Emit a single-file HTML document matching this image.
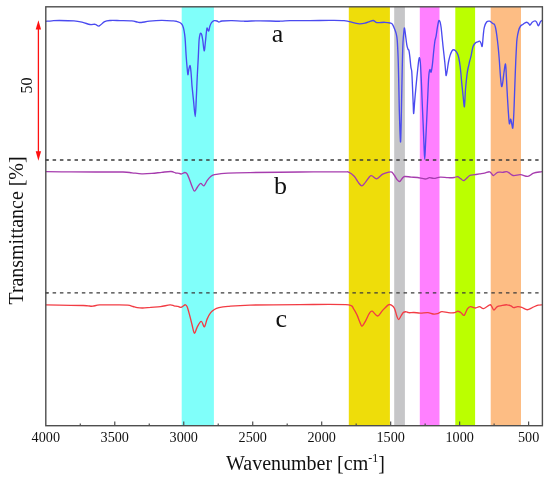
<!DOCTYPE html>
<html><head><meta charset="utf-8"><title>FTIR spectra</title>
<style>
html,body{margin:0;padding:0;background:#fff;}
body{width:550px;height:483px;overflow:hidden;}
svg{display:block;}
text{font-family:"Liberation Serif","Times New Roman",serif;fill:#111;}
.sans{font-family:"Liberation Sans",Arial,sans-serif;}
</style></head><body>
<svg width="550" height="483" viewBox="0 0 550 483">
<rect x="0" y="0" width="550" height="483" fill="#fff"/>
<rect x="181.70" y="6.80" width="32.20" height="418.90" fill="#80FFFA"/>
<rect x="348.80" y="6.80" width="41.10" height="418.90" fill="#EEDD0A"/>
<rect x="394.20" y="6.80" width="10.70" height="418.90" fill="#C6C6C8"/>
<rect x="419.80" y="6.80" width="19.70" height="418.90" fill="#FF80FF"/>
<rect x="455.30" y="6.80" width="19.80" height="418.90" fill="#BBFF00"/>
<rect x="490.70" y="6.80" width="30.30" height="418.90" fill="#FDBD84"/>
<line x1="45.29" y1="160.00" x2="538.6" y2="160.00" stroke="#3a3a3a" stroke-width="1.3" stroke-dasharray="3.5 3.812"/>
<line x1="45.29" y1="292.90" x2="538.6" y2="292.90" stroke="#3a3a3a" stroke-width="1.3" stroke-dasharray="3.5 3.812"/>
<path d="M45.80 21.30 C46.83 21.22 49.72 20.93 52.00 20.80 C54.28 20.67 55.83 20.48 59.50 20.50 C63.17 20.52 70.12 20.58 74.00 20.90 C77.88 21.22 80.13 21.80 82.80 22.40 C85.47 23.00 87.93 24.18 90.00 24.50 C92.07 24.82 93.68 24.05 95.20 24.30 C96.72 24.55 97.53 26.45 99.10 26.00 C100.67 25.55 102.70 22.52 104.60 21.60 C106.50 20.68 107.93 20.67 110.50 20.50 C113.07 20.33 116.45 20.53 120.00 20.60 C123.55 20.67 128.85 20.63 131.80 20.90 C134.75 21.17 136.12 21.93 137.70 22.20 C139.28 22.47 139.33 22.67 141.30 22.50 C143.27 22.33 146.15 21.55 149.50 21.20 C152.85 20.85 157.45 20.45 161.40 20.40 C165.35 20.35 170.68 20.75 173.20 20.90 C175.72 21.05 175.42 21.03 176.50 21.30 C177.58 21.57 178.88 22.10 179.70 22.50 C180.52 22.90 180.92 23.22 181.40 23.70 C181.88 24.18 182.20 24.47 182.60 25.40 C183.00 26.33 183.45 27.72 183.80 29.30 C184.15 30.88 184.45 32.93 184.70 34.90 C184.95 36.87 185.12 38.58 185.30 41.10 C185.48 43.62 185.65 47.43 185.80 50.00 C185.95 52.57 186.00 53.77 186.20 56.50 C186.40 59.23 186.72 63.37 187.00 66.40 C187.28 69.43 187.60 74.18 187.90 74.70 C188.20 75.22 188.43 71.02 188.80 69.50 C189.17 67.98 189.73 65.18 190.10 65.60 C190.47 66.02 190.75 69.60 191.00 72.00 C191.25 74.40 191.42 77.52 191.60 80.00 C191.78 82.48 191.78 83.50 192.10 86.90 C192.42 90.30 192.98 95.47 193.50 100.40 C194.02 105.33 194.75 116.50 195.20 116.50 C195.65 116.50 195.90 106.15 196.20 100.40 C196.50 94.65 196.77 87.07 197.00 82.00 C197.23 76.93 197.38 74.17 197.60 70.00 C197.82 65.83 198.05 62.00 198.30 57.00 C198.55 52.00 198.82 43.75 199.10 40.00 C199.38 36.25 199.72 35.63 200.00 34.50 C200.28 33.37 200.50 33.12 200.80 33.20 C201.10 33.28 201.47 33.78 201.80 35.00 C202.13 36.22 202.40 37.85 202.80 40.50 C203.20 43.15 203.77 50.65 204.20 50.90 C204.63 51.15 205.05 44.98 205.40 42.00 C205.75 39.02 206.03 35.32 206.30 33.00 C206.57 30.68 206.75 28.68 207.00 28.10 C207.25 27.52 207.50 29.02 207.80 29.50 C208.10 29.98 208.47 31.50 208.80 31.00 C209.13 30.50 209.43 27.75 209.80 26.50 C210.17 25.25 210.53 24.32 211.00 23.50 C211.47 22.68 212.03 22.07 212.60 21.60 C213.17 21.13 213.67 20.80 214.40 20.70 C215.13 20.60 216.23 20.77 217.00 21.00 C217.77 21.23 218.17 22.10 219.00 22.10 C219.83 22.10 219.83 21.25 222.00 21.00 C224.17 20.75 228.33 20.57 232.00 20.60 C235.67 20.63 239.33 21.17 244.00 21.20 C248.67 21.23 254.00 20.80 260.00 20.80 C266.00 20.80 275.00 21.23 280.00 21.20 C285.00 21.17 285.00 20.70 290.00 20.60 C295.00 20.50 303.33 20.63 310.00 20.60 C316.67 20.57 324.33 20.38 330.00 20.40 C335.67 20.42 339.97 20.30 344.00 20.70 C348.03 21.10 351.65 22.28 354.20 22.80 C356.75 23.32 357.50 23.73 359.30 23.80 C361.10 23.87 363.30 23.57 365.00 23.20 C366.70 22.83 368.12 22.05 369.50 21.60 C370.88 21.15 372.08 20.33 373.30 20.50 C374.52 20.67 374.90 22.30 376.80 22.60 C378.70 22.90 382.50 22.23 384.70 22.30 C386.90 22.37 388.70 22.67 390.00 23.00 C391.30 23.33 391.67 23.15 392.50 24.30 C393.33 25.45 394.38 28.33 395.00 29.90 C395.62 31.47 395.83 32.03 396.20 33.70 C396.57 35.37 396.88 35.97 397.20 39.90 C397.52 43.83 397.85 50.62 398.10 57.30 C398.35 63.98 398.50 71.22 398.70 80.00 C398.90 88.78 399.10 101.67 399.30 110.00 C399.50 118.33 399.68 124.70 399.90 130.00 C400.12 135.30 400.38 143.20 400.60 141.80 C400.82 140.40 401.03 128.57 401.20 121.60 C401.37 114.63 401.45 107.77 401.60 100.00 C401.75 92.23 401.95 82.12 402.10 75.00 C402.25 67.88 402.35 62.73 402.50 57.30 C402.65 51.87 402.77 46.75 403.00 42.40 C403.23 38.05 403.65 33.58 403.90 31.20 C404.15 28.82 404.23 27.48 404.50 28.10 C404.77 28.72 405.12 32.12 405.50 34.90 C405.88 37.68 406.38 42.42 406.80 44.80 C407.22 47.18 407.65 48.27 408.00 49.20 C408.35 50.13 408.58 49.05 408.90 50.40 C409.22 51.75 409.57 54.50 409.90 57.30 C410.23 60.10 410.60 64.92 410.90 67.20 C411.20 69.48 411.48 68.87 411.70 71.00 C411.92 73.13 412.03 76.50 412.20 80.00 C412.37 83.50 412.53 88.00 412.70 92.00 C412.87 96.00 413.03 100.42 413.20 104.00 C413.37 107.58 413.45 114.00 413.70 113.50 C413.95 113.00 414.35 105.15 414.70 101.00 C415.05 96.85 415.45 92.43 415.80 88.60 C416.15 84.77 416.47 81.35 416.80 78.00 C417.13 74.65 417.48 71.42 417.80 68.50 C418.12 65.58 418.42 62.30 418.70 60.50 C418.98 58.70 419.23 57.45 419.50 57.70 C419.77 57.95 420.05 59.28 420.30 62.00 C420.55 64.72 420.80 70.17 421.00 74.00 C421.20 77.83 421.28 79.83 421.50 85.00 C421.72 90.17 422.02 98.33 422.30 105.00 C422.58 111.67 422.92 118.33 423.20 125.00 C423.48 131.67 423.75 139.30 424.00 145.00 C424.25 150.70 424.45 159.20 424.70 159.20 C424.95 159.20 425.18 151.20 425.50 145.00 C425.82 138.80 426.25 129.50 426.60 122.00 C426.95 114.50 427.28 107.00 427.60 100.00 C427.92 93.00 428.23 84.67 428.50 80.00 C428.77 75.33 428.95 73.78 429.20 72.00 C429.45 70.22 429.68 69.28 430.00 69.30 C430.32 69.32 430.70 72.87 431.10 72.10 C431.50 71.33 431.98 68.00 432.40 64.70 C432.82 61.40 433.18 56.25 433.60 52.30 C434.02 48.35 434.48 43.70 434.90 41.00 C435.32 38.30 435.68 38.37 436.10 36.10 C436.52 33.83 436.98 29.88 437.40 27.40 C437.82 24.92 438.28 22.33 438.60 21.20 C438.92 20.07 439.03 20.42 439.30 20.60 C439.57 20.78 439.90 21.17 440.20 22.30 C440.50 23.43 440.80 25.12 441.10 27.40 C441.40 29.68 441.68 32.90 442.00 36.00 C442.32 39.10 442.67 42.83 443.00 46.00 C443.33 49.17 443.70 52.30 444.00 55.00 C444.30 57.70 444.53 59.53 444.80 62.20 C445.07 64.87 445.37 68.77 445.60 71.00 C445.83 73.23 445.92 75.77 446.20 75.60 C446.48 75.43 446.92 72.27 447.30 70.00 C447.68 67.73 448.03 64.43 448.50 62.00 C448.97 59.57 449.52 57.27 450.10 55.40 C450.68 53.53 451.43 51.75 452.00 50.80 C452.57 49.85 452.92 49.70 453.50 49.70 C454.08 49.70 454.78 50.02 455.50 50.80 C456.22 51.58 457.22 53.03 457.80 54.40 C458.38 55.77 458.62 57.07 459.00 59.00 C459.38 60.93 459.78 63.58 460.10 66.00 C460.42 68.42 460.65 70.92 460.90 73.50 C461.15 76.08 461.35 78.83 461.60 81.50 C461.85 84.17 462.13 86.92 462.40 89.50 C462.67 92.08 462.95 94.58 463.20 97.00 C463.45 99.42 463.70 102.40 463.90 104.00 C464.10 105.60 464.23 107.27 464.40 106.60 C464.57 105.93 464.72 102.88 464.90 100.00 C465.08 97.12 465.27 92.47 465.50 89.30 C465.73 86.13 466.03 83.58 466.30 81.00 C466.57 78.42 466.83 75.80 467.10 73.80 C467.37 71.80 467.65 70.30 467.90 69.00 C468.15 67.70 468.30 67.33 468.60 66.00 C468.90 64.67 469.32 62.55 469.70 61.00 C470.08 59.45 470.50 58.45 470.90 56.70 C471.30 54.95 471.70 52.30 472.10 50.50 C472.50 48.70 472.72 47.18 473.30 45.90 C473.88 44.62 474.90 43.45 475.60 42.80 C476.30 42.15 476.85 42.27 477.50 42.00 C478.15 41.73 478.93 41.03 479.50 41.20 C480.07 41.37 480.45 42.17 480.90 43.00 C481.35 43.83 481.80 47.53 482.20 46.20 C482.60 44.87 482.95 38.13 483.30 35.00 C483.65 31.87 483.75 29.57 484.30 27.40 C484.85 25.23 485.70 23.03 486.60 22.00 C487.50 20.97 488.67 20.95 489.70 21.20 C490.73 21.45 492.00 22.95 492.80 23.50 C493.60 24.05 494.03 23.75 494.50 24.50 C494.97 25.25 495.23 26.32 495.60 28.00 C495.97 29.68 496.28 31.57 496.70 34.60 C497.12 37.63 497.67 41.97 498.10 46.20 C498.53 50.43 498.92 55.03 499.30 60.00 C499.68 64.97 500.02 71.60 500.40 76.00 C500.78 80.40 501.20 85.40 501.60 86.40 C502.00 87.40 502.42 84.23 502.80 82.00 C503.18 79.77 503.45 76.02 503.90 73.00 C504.35 69.98 505.10 63.57 505.50 63.90 C505.90 64.23 506.03 70.48 506.30 75.00 C506.57 79.52 506.77 84.97 507.10 91.00 C507.43 97.03 507.92 105.75 508.30 111.20 C508.68 116.65 509.00 122.40 509.40 123.70 C509.80 125.00 510.30 118.95 510.70 119.00 C511.10 119.05 511.45 122.50 511.80 124.00 C512.15 125.50 512.50 129.00 512.80 128.00 C513.10 127.00 513.38 121.57 513.60 118.00 C513.82 114.43 513.93 110.93 514.10 106.60 C514.27 102.27 514.42 97.18 514.60 92.00 C514.78 86.82 515.00 80.83 515.20 75.50 C515.40 70.17 515.60 64.58 515.80 60.00 C516.00 55.42 516.20 51.50 516.40 48.00 C516.60 44.50 516.62 41.95 517.00 39.00 C517.38 36.05 518.10 32.47 518.70 30.30 C519.30 28.13 519.92 26.97 520.60 26.00 C521.28 25.03 522.07 25.03 522.80 24.50 C523.53 23.97 524.28 23.17 525.00 22.80 C525.72 22.43 526.50 22.18 527.10 22.30 C527.70 22.42 528.12 23.02 528.60 23.50 C529.08 23.98 529.40 25.40 530.00 25.20 C530.60 25.00 531.35 23.02 532.20 22.30 C533.05 21.58 534.33 20.87 535.10 20.90 C535.87 20.93 536.25 21.67 536.80 22.50 C537.35 23.33 537.78 26.05 538.40 25.90 C539.02 25.75 539.87 22.52 540.50 21.60 C541.13 20.68 541.92 20.60 542.20 20.40" fill="none" stroke="#4a4af0" stroke-width="1.35" stroke-linejoin="round"/>
<path d="M45.80 171.70 C49.83 171.73 61.63 171.85 70.00 171.90 C78.37 171.95 87.17 171.98 96.00 172.00 C104.83 172.02 117.00 171.87 123.00 172.00 C129.00 172.13 128.88 172.50 132.00 172.80 C135.12 173.10 138.37 173.70 141.70 173.80 C145.03 173.90 148.65 173.65 152.00 173.40 C155.35 173.15 158.63 172.62 161.80 172.30 C164.97 171.98 168.68 171.38 171.00 171.50 C173.32 171.62 174.53 172.73 175.70 173.00 C176.87 173.27 177.08 172.93 178.00 173.10 C178.92 173.27 180.07 174.10 181.20 174.00 C182.33 173.90 183.82 172.53 184.80 172.50 C185.78 172.47 186.27 172.52 187.10 173.80 C187.93 175.08 188.97 178.08 189.80 180.20 C190.63 182.32 191.33 184.68 192.10 186.50 C192.87 188.32 193.50 191.02 194.40 191.10 C195.30 191.18 196.45 188.28 197.50 187.00 C198.55 185.72 199.63 183.60 200.70 183.40 C201.77 183.20 202.83 186.27 203.90 185.80 C204.97 185.33 205.97 182.15 207.10 180.60 C208.23 179.05 209.48 177.48 210.70 176.50 C211.92 175.52 212.88 175.15 214.40 174.70 C215.92 174.25 217.53 174.07 219.80 173.80 C222.07 173.53 222.97 173.30 228.00 173.10 C233.03 172.90 238.00 172.78 250.00 172.60 C262.00 172.42 284.33 172.12 300.00 172.00 C315.67 171.88 335.90 171.87 344.00 171.90 C348.60 171.93 346.90 171.47 348.60 172.20 C350.30 172.93 352.58 174.60 354.20 176.30 C355.82 178.00 357.03 180.80 358.30 182.40 C359.57 184.00 360.62 185.90 361.80 185.90 C362.98 185.90 363.87 184.10 365.40 182.40 C366.93 180.70 369.13 176.30 371.00 175.70 C372.87 175.10 374.65 179.05 376.60 178.80 C378.55 178.55 380.67 175.30 382.70 174.20 C384.73 173.10 387.27 172.53 388.80 172.20 C390.33 171.87 390.95 171.65 391.90 172.20 C392.85 172.75 393.63 174.27 394.50 175.50 C395.37 176.73 396.25 178.60 397.10 179.60 C397.95 180.60 398.75 181.70 399.60 181.50 C400.45 181.30 401.35 179.23 402.20 178.40 C403.05 177.57 403.22 176.72 404.70 176.50 C406.18 176.28 408.97 176.93 411.10 177.10 C413.23 177.27 415.17 177.18 417.50 177.50 C419.83 177.82 423.10 178.97 425.10 179.00 C427.10 179.03 428.02 177.80 429.50 177.70 C430.98 177.60 432.18 178.50 434.00 178.40 C435.82 178.30 438.07 177.22 440.40 177.10 C442.73 176.98 445.67 177.63 448.00 177.70 C450.33 177.77 452.82 177.67 454.40 177.50 C455.98 177.33 456.48 176.53 457.50 176.70 C458.52 176.87 459.42 177.87 460.50 178.50 C461.58 179.13 462.47 181.00 464.00 180.50 C465.53 180.00 467.93 176.47 469.70 175.50 C471.47 174.53 472.97 174.97 474.60 174.70 C476.23 174.43 477.85 174.17 479.50 173.90 C481.15 173.63 482.85 173.45 484.50 173.10 C486.15 172.75 488.23 171.73 489.40 171.80 C490.57 171.87 490.82 172.88 491.50 173.50 C492.18 174.12 492.48 175.70 493.50 175.50 C494.52 175.30 496.10 172.83 497.60 172.30 C499.10 171.77 500.87 172.38 502.50 172.30 C504.13 172.22 505.63 171.27 507.40 171.80 C509.17 172.33 510.92 175.02 513.10 175.50 C515.28 175.98 518.05 174.55 520.50 174.70 C522.95 174.85 525.62 176.67 527.80 176.40 C529.98 176.13 531.42 173.87 533.60 173.10 C535.78 172.33 539.47 172.05 540.90 171.80 C542.20 171.55 541.98 171.63 542.20 171.60" fill="none" stroke="#a63cae" stroke-width="1.35" stroke-linejoin="round"/>
<path d="M45.80 304.90 C49.92 304.97 64.27 305.20 70.50 305.30 C76.73 305.40 80.28 305.42 83.20 305.50 C86.12 305.58 86.42 305.68 88.00 305.80 C89.58 305.92 90.75 306.35 92.70 306.20 C94.65 306.05 95.98 305.12 99.70 304.90 C103.42 304.68 110.33 304.87 115.00 304.90 C119.67 304.93 124.70 304.83 127.70 305.10 C130.70 305.37 131.40 306.08 133.00 306.50 C134.60 306.92 135.68 307.35 137.30 307.60 C138.92 307.85 140.43 308.05 142.70 308.00 C144.97 307.95 147.93 307.53 150.90 307.30 C153.87 307.07 157.32 307.00 160.50 306.60 C163.68 306.20 167.73 305.03 170.00 304.90 C172.27 304.77 172.77 305.55 174.10 305.80 C175.43 306.05 176.82 306.15 178.00 306.40 C179.18 306.65 179.95 307.57 181.20 307.30 C182.45 307.03 184.45 304.73 185.50 304.80 C186.55 304.87 186.78 305.85 187.50 307.70 C188.22 309.55 189.03 313.02 189.80 315.90 C190.57 318.78 191.33 322.12 192.10 325.00 C192.87 327.88 193.57 332.82 194.40 333.20 C195.23 333.58 195.97 329.27 197.10 327.30 C198.23 325.33 199.98 321.48 201.20 321.40 C202.42 321.32 203.42 327.18 204.40 326.80 C205.38 326.42 206.05 321.45 207.10 319.10 C208.15 316.75 209.48 314.30 210.70 312.70 C211.92 311.10 213.03 310.33 214.40 309.50 C215.77 308.67 216.63 308.22 218.90 307.70 C221.17 307.18 222.82 306.83 228.00 306.40 C233.18 305.97 238.00 305.40 250.00 305.10 C262.00 304.80 283.53 304.65 300.00 304.60 C316.47 304.55 339.87 304.10 348.80 304.80 C353.60 305.50 352.20 307.03 353.60 308.80 C355.00 310.57 356.20 313.30 357.20 315.40 C358.20 317.50 358.80 319.60 359.60 321.40 C360.40 323.20 361.00 326.30 362.00 326.20 C363.00 326.10 364.40 322.90 365.60 320.80 C366.80 318.70 368.10 315.20 369.20 313.60 C370.30 312.00 370.80 310.80 372.20 311.20 C373.60 311.60 375.90 316.10 377.60 316.00 C379.30 315.90 380.60 312.47 382.40 310.60 C384.20 308.73 386.90 305.70 388.40 304.80 C389.90 303.90 390.40 304.63 391.40 305.20 C392.40 305.77 393.50 306.40 394.40 308.20 C395.30 310.00 396.10 314.10 396.80 316.00 C397.50 317.90 397.90 319.60 398.60 319.60 C399.30 319.60 400.20 317.20 401.00 316.00 C401.80 314.80 402.50 313.10 403.40 312.40 C404.30 311.70 405.50 311.75 406.40 311.80 C407.30 311.85 407.55 312.58 408.80 312.70 C410.05 312.82 411.98 312.43 413.90 312.50 C415.82 312.57 417.97 313.07 420.30 313.10 C422.63 313.13 425.78 312.55 427.90 312.70 C430.02 312.85 431.40 313.83 433.00 314.00 C434.60 314.17 436.02 314.08 437.50 313.70 C438.98 313.32 440.10 311.87 441.90 311.70 C443.70 311.53 446.18 312.53 448.30 312.70 C450.42 312.87 453.02 312.95 454.60 312.70 C456.18 312.45 456.73 311.20 457.80 311.20 C458.87 311.20 459.93 312.02 461.00 312.70 C462.07 313.38 463.13 315.93 464.20 315.30 C465.27 314.67 466.35 310.35 467.40 308.90 C468.45 307.45 469.15 306.75 470.50 306.60 C471.85 306.45 474.00 308.00 475.50 308.00 C477.00 308.00 478.15 306.50 479.50 306.60 C480.85 306.70 481.88 308.90 483.60 308.60 C485.32 308.30 488.43 305.13 489.80 304.80 C491.17 304.47 491.12 305.73 491.80 306.60 C492.48 307.47 492.98 310.00 493.90 310.00 C494.82 310.00 496.05 307.33 497.30 306.60 C498.55 305.87 499.82 305.90 501.40 305.60 C502.98 305.30 505.22 304.75 506.80 304.80 C508.38 304.85 509.75 305.43 510.90 305.90 C512.05 306.37 512.57 307.48 513.70 307.60 C514.83 307.72 516.35 306.65 517.70 306.60 C519.05 306.55 520.20 306.78 521.80 307.30 C523.40 307.82 525.47 309.70 527.30 309.70 C529.13 309.70 530.98 308.05 532.80 307.30 C534.62 306.55 536.63 305.62 538.20 305.20 C539.77 304.78 541.53 304.87 542.20 304.80" fill="none" stroke="#f23c44" stroke-width="1.35" stroke-linejoin="round"/>
<rect x="45.80" y="6.80" width="496.60" height="418.90" fill="none" stroke="#4e4e4e" stroke-width="1.4"/>
<line x1="80.29" y1="425.70" x2="80.29" y2="423.40" stroke="#4e4e4e" stroke-width="1.2"/>
<line x1="114.77" y1="425.70" x2="114.77" y2="421.50" stroke="#4e4e4e" stroke-width="1.2"/>
<line x1="149.26" y1="425.70" x2="149.26" y2="423.40" stroke="#4e4e4e" stroke-width="1.2"/>
<line x1="183.74" y1="425.70" x2="183.74" y2="421.50" stroke="#4e4e4e" stroke-width="1.2"/>
<line x1="218.23" y1="425.70" x2="218.23" y2="423.40" stroke="#4e4e4e" stroke-width="1.2"/>
<line x1="252.72" y1="425.70" x2="252.72" y2="421.50" stroke="#4e4e4e" stroke-width="1.2"/>
<line x1="287.20" y1="425.70" x2="287.20" y2="423.40" stroke="#4e4e4e" stroke-width="1.2"/>
<line x1="321.69" y1="425.70" x2="321.69" y2="421.50" stroke="#4e4e4e" stroke-width="1.2"/>
<line x1="356.18" y1="425.70" x2="356.18" y2="423.40" stroke="#4e4e4e" stroke-width="1.2"/>
<line x1="390.66" y1="425.70" x2="390.66" y2="421.50" stroke="#4e4e4e" stroke-width="1.2"/>
<line x1="425.15" y1="425.70" x2="425.15" y2="423.40" stroke="#4e4e4e" stroke-width="1.2"/>
<line x1="459.63" y1="425.70" x2="459.63" y2="421.50" stroke="#4e4e4e" stroke-width="1.2"/>
<line x1="494.12" y1="425.70" x2="494.12" y2="423.40" stroke="#4e4e4e" stroke-width="1.2"/>
<line x1="528.61" y1="425.70" x2="528.61" y2="421.50" stroke="#4e4e4e" stroke-width="1.2"/>
<line x1="45.80" y1="160.00" x2="48.40" y2="160.00" stroke="#4e4e4e" stroke-width="1.2"/>
<line x1="45.80" y1="292.90" x2="48.40" y2="292.90" stroke="#4e4e4e" stroke-width="1.2"/>
<text x="45.80" y="441.8" font-size="14.2" text-anchor="middle">4000</text>
<text x="114.77" y="441.8" font-size="14.2" text-anchor="middle">3500</text>
<text x="183.74" y="441.8" font-size="14.2" text-anchor="middle">3000</text>
<text x="252.72" y="441.8" font-size="14.2" text-anchor="middle">2500</text>
<text x="321.69" y="441.8" font-size="14.2" text-anchor="middle">2000</text>
<text x="390.66" y="441.8" font-size="14.2" text-anchor="middle">1500</text>
<text x="459.63" y="441.8" font-size="14.2" text-anchor="middle">1000</text>
<text x="528.61" y="441.8" font-size="14.2" text-anchor="middle">500</text>
<text x="226.0" y="469.8" font-size="20">Wavenumber [cm<tspan dy="-8" font-size="12">-1</tspan><tspan dy="8">]</tspan></text>
<text transform="translate(23.3,304.6) rotate(-90)" font-size="20.4" textLength="148.2" lengthAdjust="spacingAndGlyphs">Transmittance [%]</text>
<text transform="translate(31.6,85.4) rotate(-90)" font-size="16" text-anchor="middle">50</text>
<text x="271.8" y="41.8" font-size="26">a</text>
<text x="274.1" y="193.8" font-size="26">b</text>
<text x="275.4" y="326.9" font-size="26">c</text>
<line x1="38.40" y1="28" x2="38.40" y2="152" stroke="#ff1010" stroke-width="1.3"/>
<polygon points="38.40,20.2 35.70,29.4 41.10,29.4" fill="#ff1010"/>
<polygon points="38.40,160.8 35.70,151.2 41.10,151.2" fill="#ff1010"/>
</svg>
</body></html>
